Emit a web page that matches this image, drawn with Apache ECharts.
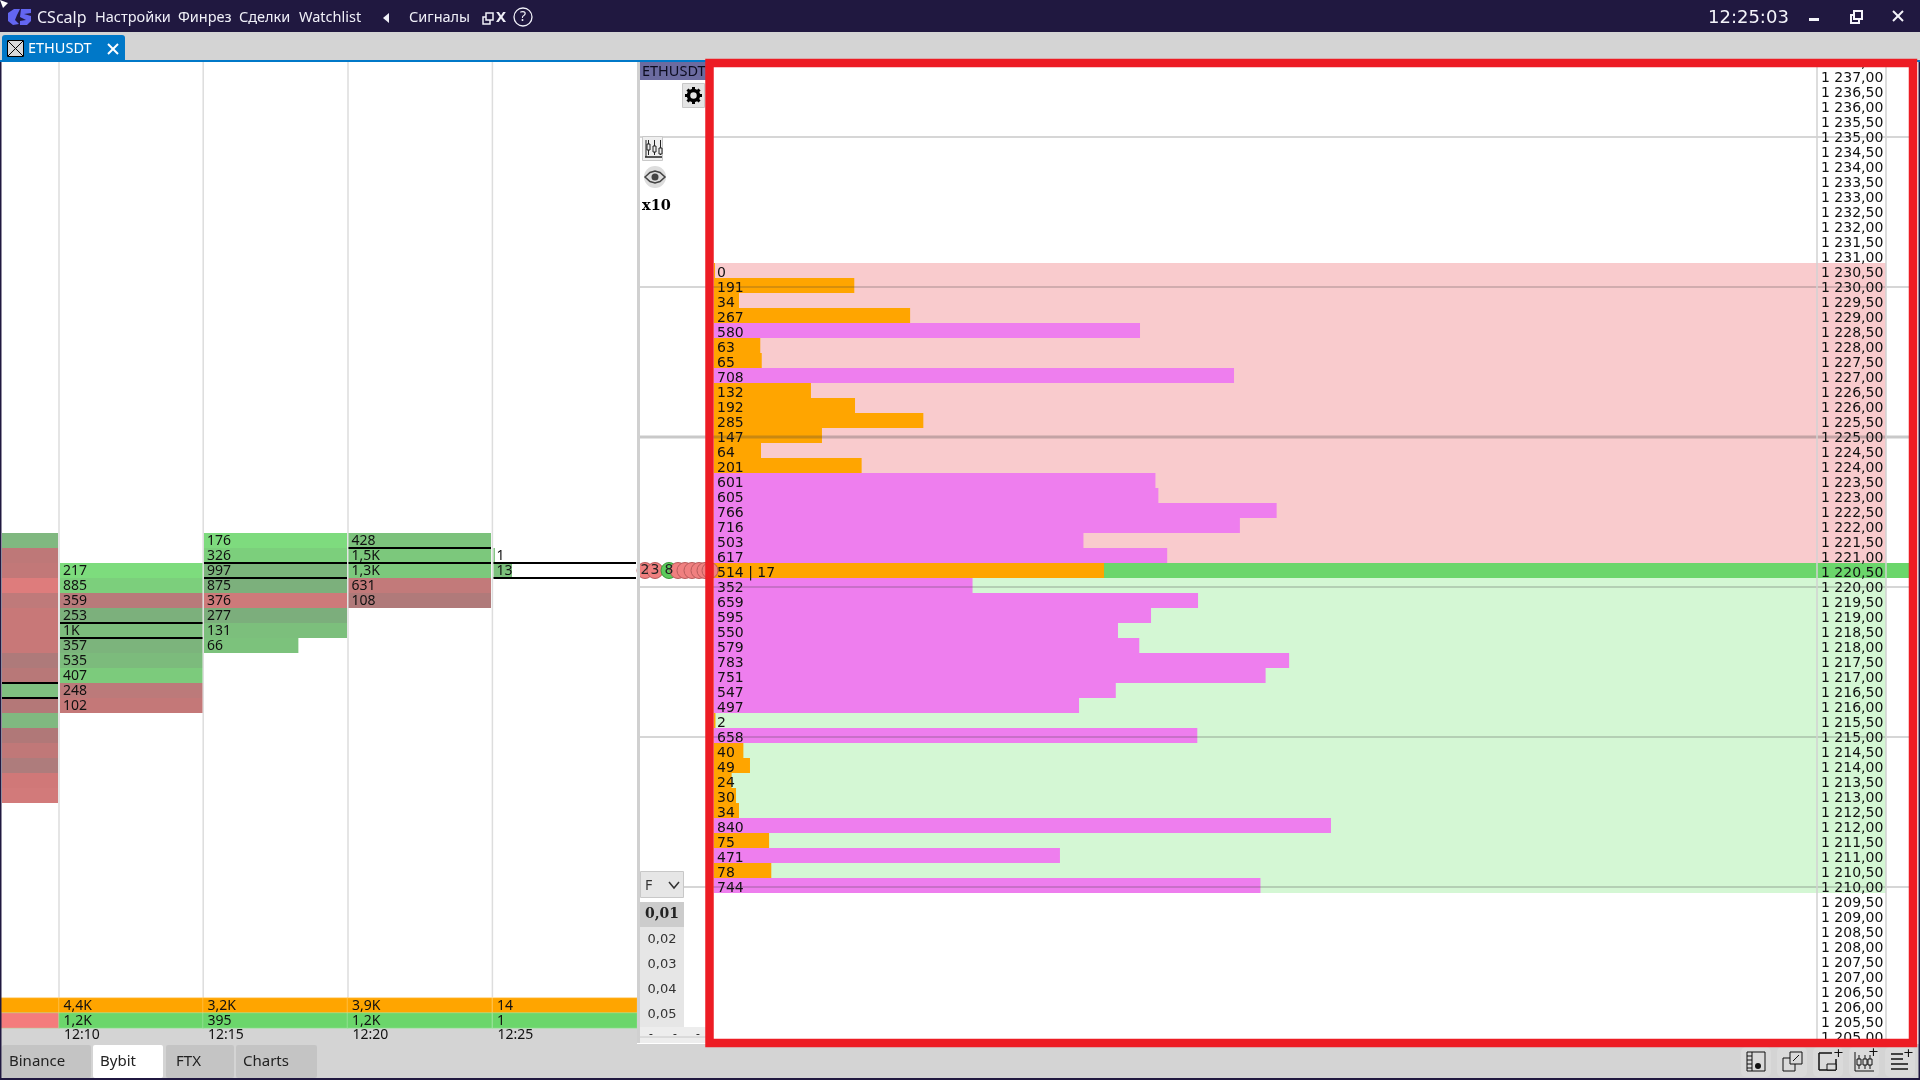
<!DOCTYPE html>
<html>
<head>
<meta charset="utf-8" />
<title>CScalp ETHUSDT</title>
<script src="https://cdn.jsdelivr.net/npm/echarts@6/dist/echarts.min.js"></script>
<style>
  html, body { margin: 0; padding: 0; background: #fff; overflow: hidden; }
  #chart { width: 1920px; height: 1080px; }
</style>
</head>
<body>
<div id="chart"></div>
<script>
// price ladder, top to bottom
const rowPrices = [
  "1 237,50","1 237,00","1 236,50","1 236,00","1 235,50","1 235,00","1 234,50","1 234,00","1 233,50","1 233,00","1 232,50",
  "1 232,00","1 231,50","1 231,00","1 230,50","1 230,00","1 229,50","1 229,00","1 228,50","1 228,00","1 227,50","1 227,00",
  "1 226,50","1 226,00","1 225,50","1 225,00","1 224,50","1 224,00","1 223,50","1 223,00","1 222,50","1 222,00","1 221,50",
  "1 221,00","1 220,50","1 220,00","1 219,50","1 219,00","1 218,50","1 218,00","1 217,50","1 217,00","1 216,50","1 216,00",
  "1 215,50","1 215,00","1 214,50","1 214,00","1 213,50","1 213,00","1 212,50","1 212,00","1 211,50","1 211,00","1 210,50",
  "1 210,00","1 209,50","1 209,00","1 208,50","1 208,00","1 207,50","1 207,00","1 206,50","1 206,00","1 205,50","1 205,00"
];

// volume profile, 1 230,50 down to 1 210,00
const profileTopPrice = "1 230,50";
const profileVolumes = [
  0, 191, 34, 267, 580, 63, 65, 708, 132, 192, 285, 147, 64, 201, 601, 605, 766, 716, 503, 617, 514,
  352, 659, 595, 550, 579, 783, 751, 547, 497, 2, 658, 40, 49, 24, 30, 34, 840, 75, 471, 78, 744
];
const currentPrice = "1 220,50";
const currentAsk = 17;
const guidePrices = ["1 235,00", "1 230,00", "1 225,00", "1 220,00", "1 215,00", "1 210,00"];
const boldGuidePrice = "1 225,00";

// clusters (first column has no numbers in the picture, only full cells)
const clusterTimes = ["", "12:10", "12:15", "12:20", "12:25"];
const clusterTopPrices = ["1 221,50", "1 220,50", "1 221,50", "1 221,50", "1 221,00"];
const clusterValues = [
  [100, 100, 100, 100, 100, 100, 100, 100, 100, 100, 100, 100, 100, 100, 100, 100, 100, 100],
  [217, 885, 359, 253, 1000, 357, 535, 407, 248, 102],
  [176, 326, 997, 875, 376, 277, 131, 66],
  [428, 1500, 1300, 631, 108],
  [1, 13]
];
const clusterLabels = [
  [],
  ["217", "885", "359", "253", "1K", "357", "535", "407", "248", "102"],
  ["176", "326", "997", "875", "376", "277", "131", "66"],
  ["428", "1,5K", "1,3K", "631", "108"],
  ["1", "13"]
];
const clusterPeakPrices = ["1 216,50", "1 218,50", "1 220,50", "1 221,00", "1 220,50"];
const totalBuyValues = [0, 4400, 3200, 3900, 14];
const totalSellValues = [0, 1200, 395, 1200, 1];
const totalBuyLabels = ["", "4,4K", "3,2K", "3,9K", "14"];
const totalSellLabels = ["", "1,2K", "395", "1,2K", "1"];

// trades on the tape
const tradeSizes = [2, 3, 8, 1, 1, 1, 1, 1, 1];
const tradeSeconds = [5, 15, 29, 38, 45, 52, 59, 65, 70];
const tradeSides = ["s", "s", "b", "s", "s", "s", "s", "s", "s"];

// styles
const clusterColors = [
  ["#80B880","#BE7878","#C27878","#DE7C7C","#BF7A7A","#C87878","#C87878","#C87878","#AE7A7A","#B87878","#7FC080","#B47878","#80B880","#B07878","#C07878","#AE7C7C","#D07878","#D27A7A"],
  ["#7DDC7D","#7CCF7C","#B87A7A","#7CB07C","#7CBC7C","#7CB47C","#7CBB7C","#7CCB7C","#BC7A7A","#C47878"],
  ["#7EDB7E","#7CCF7C","#7BB47B","#7CB07C","#CE7A7A","#7CAE7C","#7CBF7C","#7CC27C"],
  ["#7CC27C","#7CC87C","#7CC87C","#C27A7A","#B07A7A"],
  ["#7CC07C","#7CC07C"]
];
const colLeft = [2, 60, 204, 348.5, 493.5];
const colWidth = [56, 142.5, 143, 142.5, 142.5];
const dividerX = [59, 203.2, 348, 492.4];
const ORANGE = "#FFA500", PINK = "#EE7EEE", GREEN = "#6BD66B";
const BG_ASK = "#F9CBCD", BG_BID = "#D4F7D4";
const UI = "Noto Sans", MONO = "DejaVu Sans";
const NAVY = "#201840", GREY = "#D4D4D4";
const PX_PER_VOL = 0.7345;

const chart = echarts.init(document.getElementById("chart"), null, {renderer: "canvas"});

const topIndex = rowPrices.indexOf(profileTopPrice);
const curIndex = rowPrices.indexOf(currentPrice);
const emptyRows = () => rowPrices.map(() => null);

const backgroundData = emptyRows();
const volumeData = emptyRows();
const volumeLabel = emptyRows();
profileVolumes.forEach((v, i) => {
  const r = topIndex + i;
  const isCur = r === curIndex;
  const bgColor = isCur ? GREEN : r < curIndex ? BG_ASK : BG_BID;
  backgroundData[r] = {value: (isCur ? 1195 : 1172) / PX_PER_VOL, itemStyle: {color: bgColor}};
  volumeData[r] = {
    value: isCur ? v + currentAsk : v,
    itemStyle: {color: isCur || v < 300 ? ORANGE : PINK}
  };
  volumeLabel[r] = isCur ? v + " | " + currentAsk : String(v);
});

const grids = [], xAxes = [], yAxes = [], series = [];

function rowsAxis(gridIndex, extra) {
  return Object.assign({
    gridIndex, type: "category", data: rowPrices, inverse: true, boundaryGap: true,
    axisLine: {show: false}, axisTick: {show: false}, axisLabel: {show: false}, splitLine: {show: false}
  }, extra);
}
function hiddenValue(gridIndex, max) {
  return {gridIndex, type: "value", min: 0, max, show: false, splitLine: {show: false}};
}

// profile
grids.push({left: 714, top: 53, width: 1195, height: 990});
xAxes.push(hiddenValue(0, 1195 / PX_PER_VOL));
yAxes.push(rowsAxis(0));
series.push({
  type: "bar", xAxisIndex: 0, yAxisIndex: 0, data: backgroundData, barWidth: 15, barGap: "-100%",
  silent: true, animation: false
});
series.push({
  type: "bar", xAxisIndex: 0, yAxisIndex: 0, data: volumeData, barWidth: 15, barGap: "-100%",
  barMinHeight: 1, animation: false,
  label: {
    show: true, position: "insideLeft", distance: 3, offset: [0, 3], color: "#111",
    fontFamily: MONO, fontSize: 14,
    formatter: p => volumeLabel[p.dataIndex]
  }
});

// price labels sit a little under the row centre, so they get their own grid
const priceGrid = grids.length;
grids.push({left: 714, top: 55.5, width: 1195, height: 990});
xAxes.push(hiddenValue(priceGrid, 1));
yAxes.push(rowsAxis(priceGrid, {
  position: "right", offset: -92, z: 5,
  axisLabel: {show: true, interval: 0, margin: 4, fontFamily: MONO, fontSize: 14, color: "#111", align: "left"}
}));

// cluster columns + totals under them
clusterValues.forEach((vals, c) => {
  const g = grids.length;
  grids.push({left: colLeft[c], top: 53, width: colWidth[c], height: 990});
  xAxes.push(hiddenValue(g, 100));
  yAxes.push(rowsAxis(g));
  const start = rowPrices.indexOf(clusterTopPrices[c]);
  const data = emptyRows();
  vals.forEach((v, i) => {
    data[start + i] = {value: v, itemStyle: {color: clusterColors[c][i]}};
  });
  series.push({
    type: "bar", xAxisIndex: g, yAxisIndex: g, data, barWidth: 15, clip: true, barMinHeight: 1, animation: false,
    label: {
      show: true, position: "insideLeft", distance: 3, offset: [0, 1], color: "#111", fontFamily: UI, fontSize: 14,
      formatter: p => clusterLabels[c][p.dataIndex - start] || ""
    }
  });
  series.push({
    type: "custom", xAxisIndex: g, yAxisIndex: g, data: [[0, rowPrices.indexOf(clusterPeakPrices[c])]],
    silent: true, animation: false, z: 4,
    renderItem: (params, api) => {
      const y = api.coord([0, api.value(1)])[1];
      const box = params.coordSys;
      const style = {stroke: "#000", lineWidth: 2};
      return {type: "group", children: [
        {type: "line", shape: {x1: box.x, y1: y - 7.5, x2: box.x + box.width, y2: y - 7.5}, style},
        {type: "line", shape: {x1: box.x, y1: y + 7.5, x2: box.x + box.width, y2: y + 7.5}, style}
      ]};
    }
  });

  const t = grids.length;
  grids.push({left: colLeft[c] - 1, top: 998, width: colWidth[c] + 2, height: 30});
  xAxes.push({
    gridIndex: t, type: "category", data: [clusterTimes[c]], position: "bottom",
    axisLine: {show: false}, axisTick: {show: false}, axisLabel: {show: false}, splitLine: {show: false},
    name: clusterTimes[c], nameLocation: "start", nameGap: -5,
    nameTextStyle: {align: "left", verticalAlign: "top", fontFamily: UI, fontSize: 14, color: "#111", padding: [0, 0, 0, 0]}
  });
  yAxes.push({
    gridIndex: t, type: "category", data: ["buy", "sell"], inverse: true,
    axisLine: {show: false}, axisTick: {show: false}, axisLabel: {show: false}, splitLine: {show: false}
  });
  series.push({
    type: "heatmap", xAxisIndex: t, yAxisIndex: t, silent: true, animation: false,
    data: [
      {value: [0, 0, totalBuyValues[c]], itemStyle: {color: ORANGE, borderColor: "#FFD27A", borderWidth: 0.5}},
      {value: [0, 1, totalSellValues[c]], itemStyle: {color: c === 0 ? "#F47C7C" : GREEN, borderColor: "#B0E8B0", borderWidth: 0.5}}
    ],
    label: {
      show: true, position: "insideLeft", distance: 5, offset: [0, 1], color: "#111", fontFamily: UI, fontSize: 14,
      formatter: p => (p.dataIndex === 0 ? totalBuyLabels : totalSellLabels)[c]
    }
  });
});

// tape bubbles
const tapeGrid = grids.length;
grids.push({left: 640, top: 53, width: 65, height: 990});
xAxes.push(hiddenValue(tapeGrid, 65));
yAxes.push(rowsAxis(tapeGrid));
series.push({
  type: "scatter", xAxisIndex: tapeGrid, yAxisIndex: tapeGrid, symbolSize: 16, clip: false, animation: false, z: 3,
  data: tradeSeconds.map((s, i) => ({
    value: [s, currentPrice],
    itemStyle: {
      color: tradeSides[i] === "b" ? "#5CCB5C" : "#F08080",
      borderColor: tradeSides[i] === "b" ? "#3C9A3C" : "#B85C5C", borderWidth: 1, opacity: 1
    },
    z: tradeSides[i] === "b" ? 10 : i,
    label: {show: tradeSizes[i] > 1, formatter: String(tradeSizes[i]), color: "#222", fontFamily: MONO, fontSize: 14}
  }))
});

// guide lines over everything on the ladder, one pixel below the row centre
const guideGrid = grids.length;
grids.push({left: 640, top: 54.5, width: 1269, height: 990});
xAxes.push(hiddenValue(guideGrid, 1));
yAxes.push(rowsAxis(guideGrid));
series.push({
  type: "custom", xAxisIndex: guideGrid, yAxisIndex: guideGrid, silent: true, animation: false, z: 6,
  data: guidePrices.map(p => [0, rowPrices.indexOf(p), p === boldGuidePrice ? 3 : 1.5]),
  renderItem: (params, api) => {
    const y = api.coord([0, api.value(1)])[1];
    const box = params.coordSys;
    return {
      type: "line",
      shape: {x1: box.x, y1: y, x2: box.x + box.width, y2: y},
      style: {stroke: "rgba(60,60,60,0.28)", lineWidth: api.value(2)}
    };
  }
});

// window chrome
const TOP = 100;
function rect(x, y, w, h, fill, stroke, r, lw) {
  return {type: "rect", z: TOP, silent: true, shape: {x, y, width: w, height: h, r: r || 0},
    style: {fill: fill || "none", stroke: stroke || "none", lineWidth: lw || 1}};
}
function line(x1, y1, x2, y2, stroke, w) {
  return {type: "line", z: TOP, silent: true, shape: {x1, y1, x2, y2}, style: {stroke, lineWidth: w || 1}};
}
function txt(x, y, text, opt) {
  const o = opt || {};
  return {type: "text", z: o.z || TOP + 1, silent: true, x, y, style: {
    text, fill: o.fill || "#111", fontFamily: o.font || UI, fontSize: o.size || 14, fontWeight: o.weight || "normal",
    align: o.align || "left", verticalAlign: "middle"
  }};
}
function circle(cx, cy, r, fill, stroke, w) {
  return {type: "circle", z: TOP, silent: true, shape: {cx, cy, r},
    style: {fill: fill || "none", stroke: stroke || "none", lineWidth: w || 1}};
}
function poly(points, fill, stroke, w) {
  return {type: "polygon", z: TOP + 1, silent: true, shape: {points},
    style: {fill: fill || "none", stroke: stroke || "none", lineWidth: w || 1}};
}

const chrome = [];
// title bar
chrome.push(rect(0, 0, 1920, 32, NAVY));
chrome.push(rect(0, 32, 1920, 28, GREY));
chrome.push(rect(0, 60, 1920, 2, "#0078C8"));
chrome.push(poly([[14, 9], [20, 9], [17, 15], [15, 20], [19, 24], [13, 25], [8, 21], [8, 13]], "#6366F1"));
chrome.push(poly([[21, 9], [31, 9], [31, 13], [24, 14], [31, 16], [31, 21], [27, 25], [20, 25], [20, 21], [26, 20], [20, 17]], "#6366F1"));
chrome.push(poly([[0, 0], [8, 3], [3, 8]], "#fff"));
[[37, "CScalp", 16], [95, "Настройки", 14.5], [178, "Финрез", 14.5], [239, "Сделки", 14.5], [299, "Watchlist", 14.5], [409, "Сигналы", 14.5]]
  .forEach(m => chrome.push(txt(m[0], 18, m[1], {fill: "#F0F0F8", size: m[2]})));
chrome.push(poly([[383, 18], [389, 13], [389, 23]], "#F0F0F8"));
chrome.push(rect(483, 17, 7, 7, "none", "#F0F0F8", 0, 1.5), rect(486, 13, 7, 7, NAVY, "#F0F0F8", 0, 1.5));
chrome.push(txt(496, 18, "X", {fill: "#F0F0F8", size: 15, weight: "bold"}));
chrome.push(circle(523, 17, 9, "none", "#F0F0F8", 1.3), txt(523, 17, "?", {fill: "#F0F0F8", size: 14, align: "center"}));
chrome.push(txt(1708, 18, "12:25:03", {fill: "#F4F4FA", size: 18, font: MONO}));
chrome.push(rect(1809, 18, 10, 3, "#F4F4FA"));
chrome.push(rect(1851, 15, 8, 8, "none", "#F4F4FA", 0, 2), rect(1854, 11, 8, 8, NAVY, "#F4F4FA", 0, 2));
chrome.push(line(1893, 11, 1903, 21, "#F4F4FA", 2), line(1903, 11, 1893, 21, "#F4F4FA", 2));
// tab
chrome.push(rect(2, 35, 123, 26, "#0078C8", null, [3, 3, 0, 0]));
chrome.push(rect(7.5, 40.5, 16, 16, "#D8D8D8", "#000"), line(8, 41, 23, 56, "#000"), line(23, 41, 8, 56, "#000"));
chrome.push(txt(28, 49, "ETHUSDT", {fill: "#fff", size: 14.5}));
chrome.push(line(108, 44, 118, 54, "#fff", 2), line(118, 44, 108, 54, "#fff", 2));
// column dividers
dividerX.forEach(x => chrome.push(Object.assign(line(x, 62, x, 997, "#DDDDDD", 1.5), {z: 1})));
// tape strip
chrome.push(rect(637, 62, 3, 981, "#D0D0D0"));
chrome.push(rect(640, 62, 66, 18, "#6B6BA0"));
chrome.push(txt(642, 72, "ETHUSDT", {size: 14.5, fill: "#0C0C20"}));
chrome.push(rect(682.5, 83.5, 22, 24, "#E4E4E4", "#C8C8C8"));
chrome.push(circle(693.5, 95.5, 5, "none", "#000", 3.5));
[0, 45, 90, 135].forEach(a => {
  const dx = Math.cos(a * Math.PI / 180) * 8.5, dy = Math.sin(a * Math.PI / 180) * 8.5;
  chrome.push(line(693.5 - dx, 95.5 - dy, 693.5 - dx * 0.65, 95.5 - dy * 0.65, "#000", 3));
  chrome.push(line(693.5 + dx, 95.5 + dy, 693.5 + dx * 0.65, 95.5 + dy * 0.65, "#000", 3));
});
chrome.push(rect(642.5, 136.5, 20, 24, "#EFEFEF", "#C8C8C8"));
[649, 655, 661].forEach((x, i) => {
  chrome.push(line(x - 0.5, 140, x - 0.5, 155, "#222"), rect(x - 2, 144 + i * 2, 3, 6, "#EFEFEF", "#222"));
});
chrome.push(line(645, 157, 662, 157, "#222", 1.5), line(646, 140, 646, 157, "#222"));
chrome.push(circle(655, 177, 11, "#DDDDDD"));
chrome.push(poly([[645, 177], [650, 172.5], [655, 171], [660, 172.5], [665, 177], [660, 181.5], [655, 183], [650, 181.5]], "none", "#444", 1.5));
chrome.push(Object.assign(circle(655, 177, 3.5, "#444"), {z: TOP + 2}));
chrome.push(txt(642, 206, "x10", {font: "DejaVu Serif", size: 14.5, weight: "bold", fill: "#000"}));
chrome.push(rect(640.5, 871.5, 43, 26, "#E6E6E6", "#C8C8C8"));
chrome.push(txt(645, 886, "F", {size: 14, fill: "#333"}));
chrome.push({type: "polyline", z: TOP + 1, silent: true, shape: {points: [[669, 882], [674, 888], [679, 882]]}, style: {stroke: "#333", fill: "none", lineWidth: 1.5}});
chrome.push(rect(640, 902, 44, 25, "#CCCCCC"), rect(640, 927, 44, 100, "#E6E6E6"));
chrome.push(txt(662, 914, "0,01", {font: "DejaVu Serif", size: 14, weight: "bold", align: "center", fill: "#222"}));
["0,02", "0,03", "0,04", "0,05"].forEach((s, i) => chrome.push(txt(662, 939.5 + i * 25, s, {font: MONO, size: 13, align: "center", fill: "#333"})));
chrome.push(rect(640, 1027, 66, 16, "#EDEDED"), line(640, 1037, 706, 1037, "#C8C8C8"));
[651, 675, 698].forEach(x => chrome.push(txt(x, 1035, "-", {align: "center", size: 12, fill: "#333"})));
// time row and bottom tabs
chrome.push(Object.assign(rect(0, 1028, 637, 16, GREY), {z: 0}));
chrome.push(rect(0, 1044, 1920, 34, GREY));
chrome.push(rect(0, 1078, 1920, 2, NAVY));
chrome.push(rect(0, 62, 1.5, 1018, NAVY), rect(1918.5, 62, 1.5, 1018, NAVY));
[[2, 89, "Binance", "#C4C4C4", 7], [93, 70, "Bybit", "#FFFFFF", 7], [166, 68, "FTX", "#C4C4C4", 10], [236, 81, "Charts", "#C4C4C4", 7]].forEach(t => {
  chrome.push(rect(t[0], 1045, t[1], 33, t[3], null, 2));
  chrome.push(txt(t[0] + t[4], 1062, t[2], {size: 15, fill: "#222"}));
});
[1756, 1792, 1828, 1864, 1900].forEach(x => chrome.push(rect(x - 15, 1047, 30, 30, "#DADADA", null, 5)));
// icons, bottom right
chrome.push(rect(1747, 1052, 18, 19, "none", "#111"), line(1752, 1052, 1752, 1071, "#111"));
[1056, 1060, 1064, 1068].forEach(y => chrome.push(line(1747, y, 1752, y, "#111")));
chrome.push(circle(1758, 1066, 3, "#111"));
chrome.push(rect(1783, 1058, 12, 13, "none", "#111", 0), rect(1790, 1052, 12, 12, "#DADADA", "#111"), line(1793, 1061, 1799, 1055, "#111"));
chrome.push(line(1819, 1053, 1832, 1053, "#111", 1.5), line(1819, 1053, 1819, 1070, "#111", 1.5), line(1819, 1070, 1836, 1070, "#111", 1.5), line(1836, 1059, 1836, 1070, "#111", 1.5));
chrome.push(rect(1827, 1064, 9, 6, "#DADADA", "#111"));
chrome.push(txt(1833, 1054, "+", {size: 13, font: MONO}));
chrome.push(line(1855, 1052, 1855, 1071, "#111"), line(1855, 1071, 1874, 1071, "#111"));
[1859, 1865, 1870].forEach(x => chrome.push(line(x, 1055, x, 1069, "#111"), rect(x - 2, 1059, 4, 6, "#DADADA", "#111")));
chrome.push(txt(1868, 1053, "+", {size: 13, font: MONO}));
[1054, 1059, 1064, 1069].forEach((y, i) => chrome.push(line(1891, y, i < 2 ? 1903 : 1908, y, "#111", 1.5)));
chrome.push(txt(1903, 1054, "+", {size: 13, font: MONO}));
// price column edges and the red annotation frame
chrome.push(Object.assign(line(1817, 62, 1817, 1043, "#D2D2D2", 1.5), {z: 7}), Object.assign(line(1886, 62, 1886, 1043, "#D2D2D2", 1.5), {z: 7}));
chrome.push({type: "rect", z: TOP + 5, silent: true, shape: {x: 709.5, y: 63, width: 1203.5, height: 980},
  style: {fill: "none", stroke: "#ED1C24", lineWidth: 8.5}});

chart.setOption({
  animation: false,
  backgroundColor: "#fff",
  grid: grids,
  xAxis: xAxes,
  yAxis: yAxes,
  series,
  graphic: {elements: chrome}
});
</script>
</body>
</html>
